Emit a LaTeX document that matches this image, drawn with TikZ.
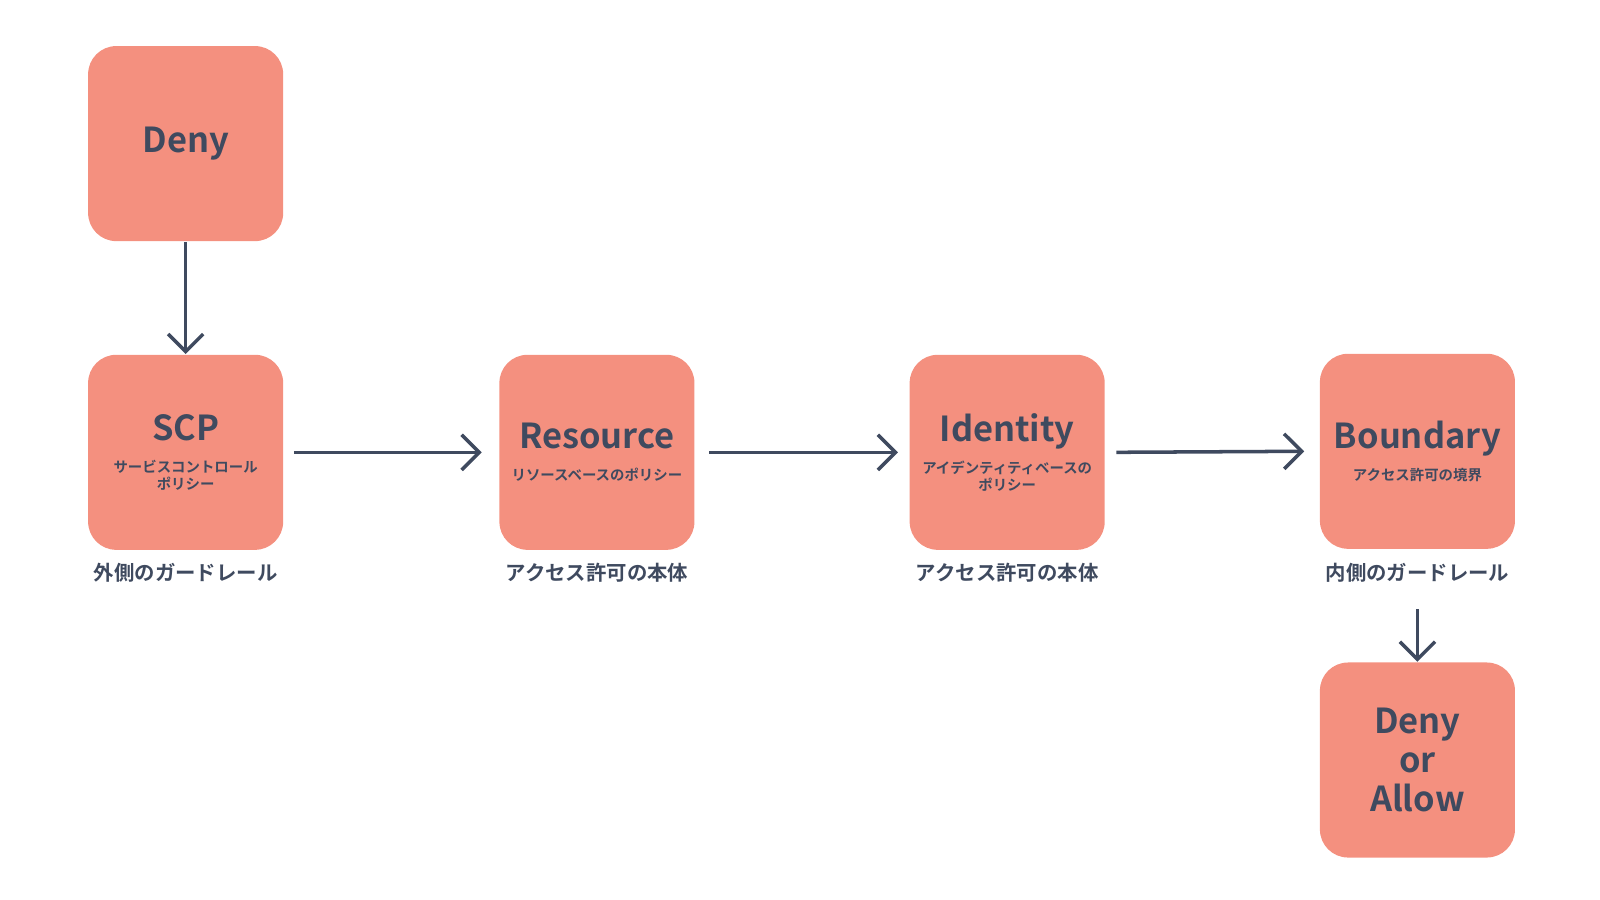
\documentclass[tikz,border=0pt]{standalone}
\usepackage{fontspec}
\setmainfont{Noto Sans CJK JP}[BoldFont={Noto Sans CJK JP Bold}]
\usetikzlibrary{arrows.meta}
\definecolor{boxred}{HTML}{F4907F}
\definecolor{ink}{HTML}{3F4A5F}
\newcommand\subtxt{\fontsize{4.1}{4.6}\selectfont}
\tikzset{
  policy/.style={fill=boxred, rounded corners=8pt, minimum width=1.95cm, minimum height=1.95cm,
    text=ink, align=center, font=\bfseries\fontsize{9.8}{10}\selectfont},
  caption/.style={text=ink, font=\bfseries\fontsize{5.8}{6}\selectfont},
  flow/.style={draw=ink, line width=1pt, -{Straight Barb[length=5pt,width=10pt,line width=1pt]}}
}
\begin{document}
\begin{tikzpicture}[x=0.01026cm,y=-0.01026cm]
  \useasboundingbox (0,0) rectangle (1560,877);
  % boxes
  \node[policy] (deny) at (181,140) {Deny};
  \node[policy] (scp) at (181,441) {SCP\\[-1pt]\subtxt サービスコントロール\\[-5.2pt]\subtxt ポリシー};
  \node[policy] (res) at (582,441) {Resource\\[-1pt]\subtxt リソースベースのポリシー};
  \node[policy] (idt) at (982,441) {Identity\\[-1pt]\subtxt アイデンティティベースの\\[-5.2pt]\subtxt ポリシー};
  \node[policy] (bnd) at (1382,440) {Boundary\\[-1pt]\subtxt アクセス許可の境界};
  \node[policy, font=\bfseries\fontsize{9.8}{11}\selectfont] (res2) at (1382,741) {Deny\\or\\Allow};
  % captions
  \node[caption] (c1) at (181,558) {外側のガードレール};
  \node[caption] (c2) at (582,558) {アクセス許可の本体};
  \node[caption] (c3) at (982,558) {アクセス許可の本体};
  \node[caption] (c4) at (1382,558) {内側のガードレール};
  % arrows
  \draw[flow] (deny.south) -- (scp.north);
  \draw[flow] ([xshift=0.1cm]scp.east) -- ([xshift=-0.17cm]res.west);
  \draw[flow] ([xshift=0.14cm]res.east) -- ([xshift=-0.11cm]idt.west);
  \draw[flow] ([xshift=0.11cm]idt.east) -- ([xshift=-0.15cm]bnd.west);
  \draw[flow] ([yshift=-0.15cm]c4.south) -- (res2.north);
\end{tikzpicture}
\end{document}
